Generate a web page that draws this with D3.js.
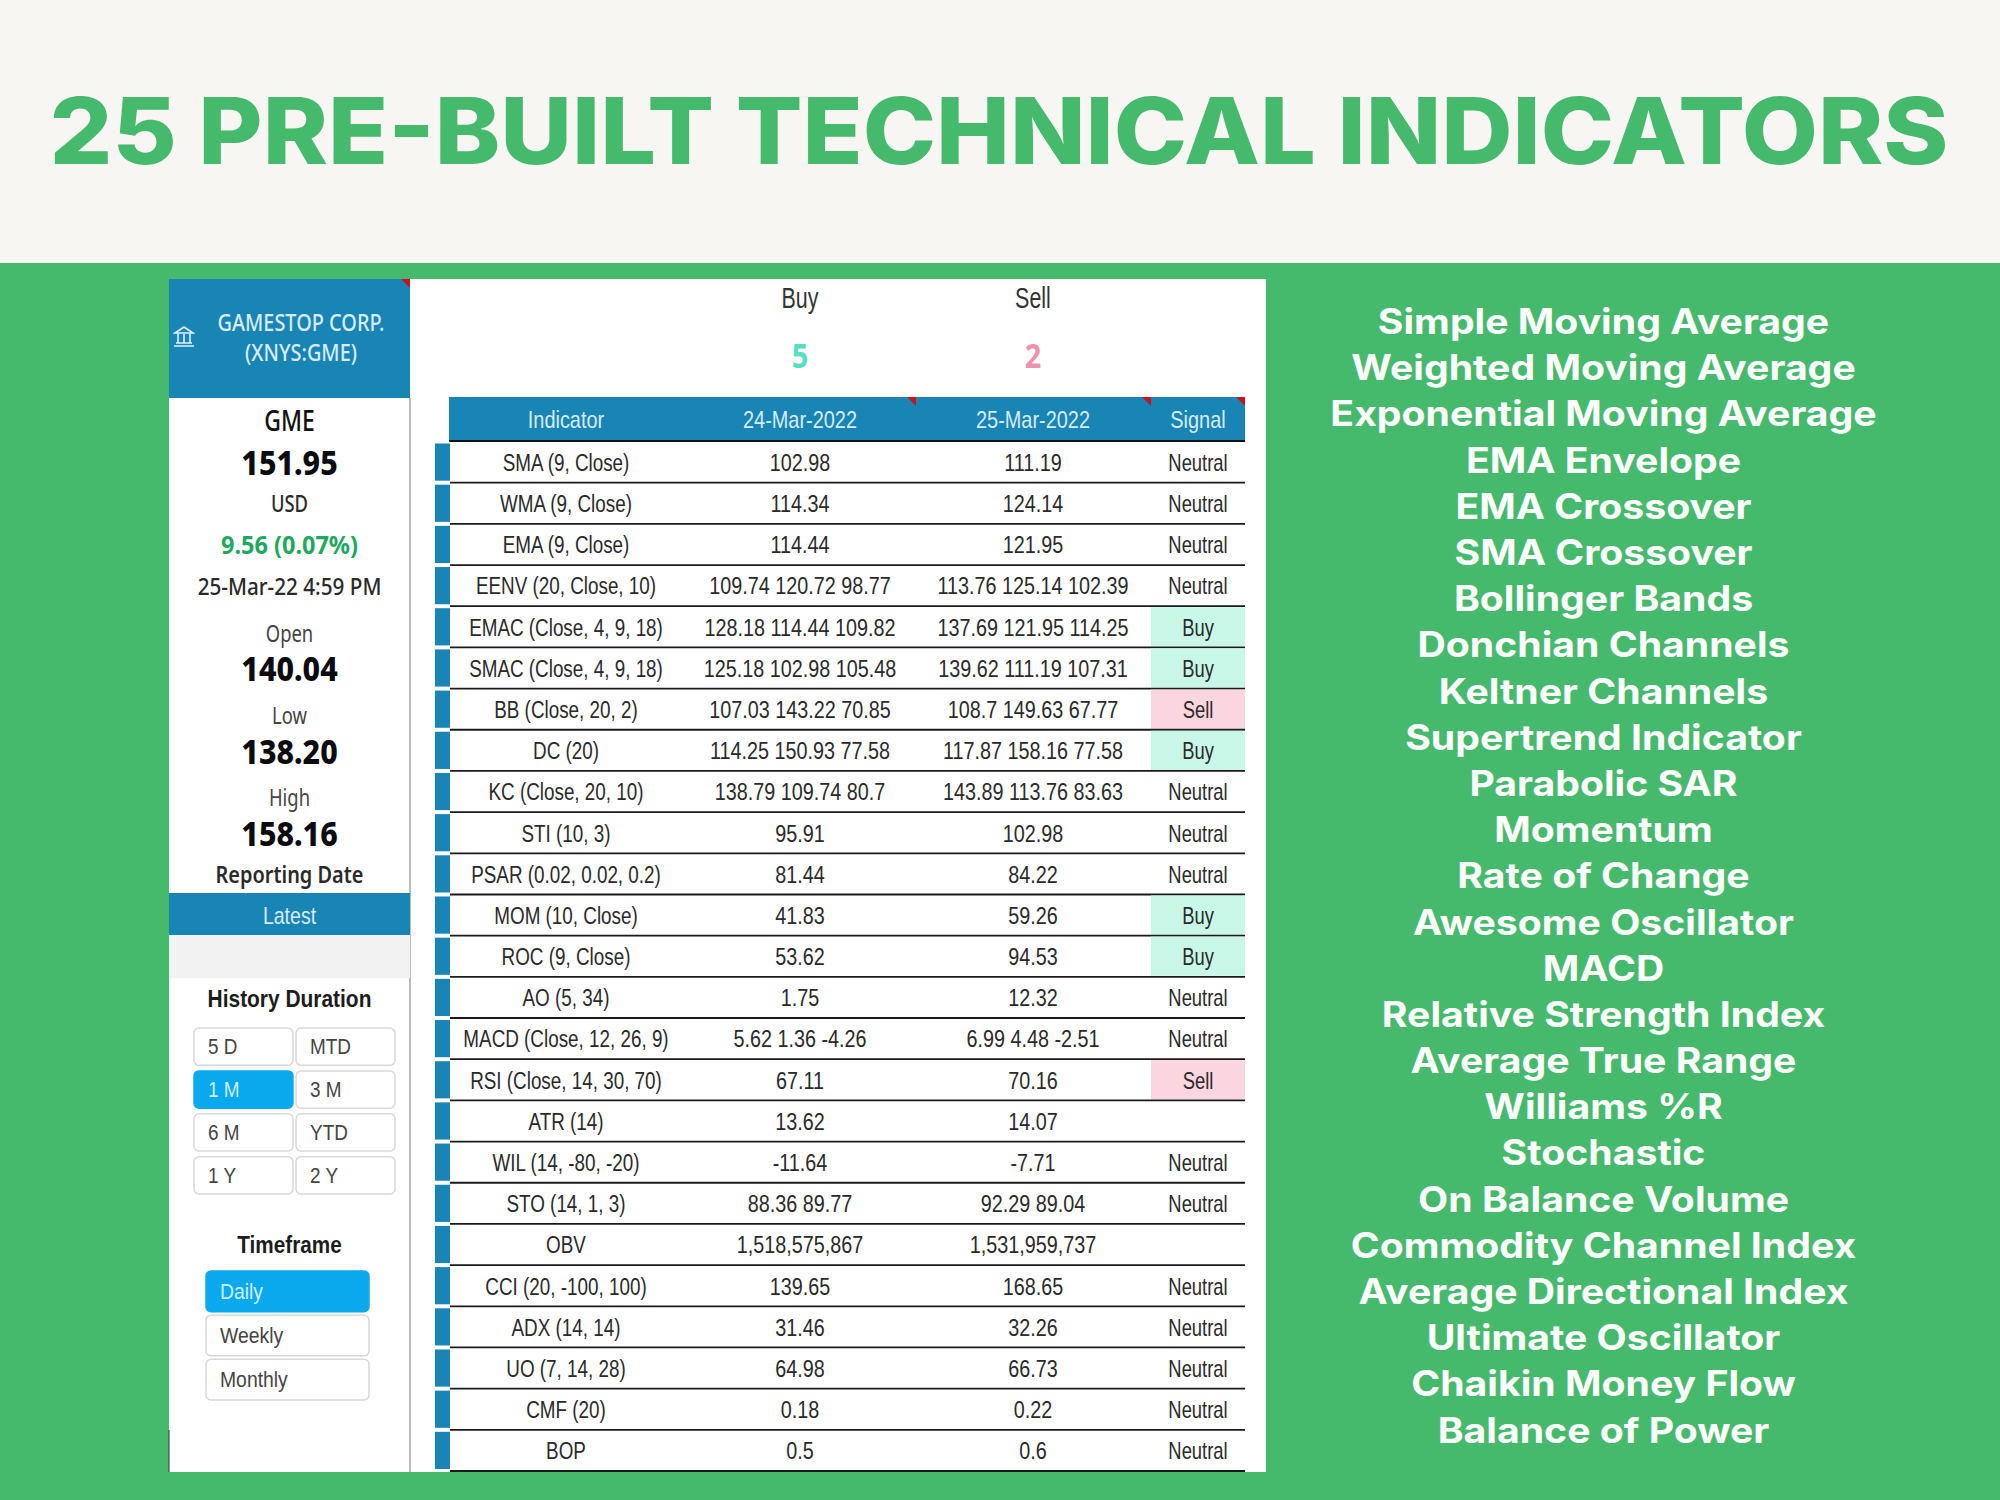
<!DOCTYPE html>
<html>
<head>
<meta charset="utf-8">
<title>25 Pre-built Technical Indicators</title>
<script src="https://cdn.jsdelivr.net/npm/d3@7"></script>
<style>
  html, body { margin: 0; padding: 0; background: #fff; }
  svg { display: block; }
</style>
</head>
<body>
<script>
const titleText = '25 PRE-BUILT TECHNICAL INDICATORS'
const dates = ['24-Mar-2022', '25-Mar-2022']
const headers = ['Indicator', dates[0], dates[1], 'Signal']
const buyCount = 5
const sellCount = 2

const indicators = ['SMA (9, Close)', 'WMA (9, Close)', 'EMA (9, Close)', 'EENV (20, Close, 10)', 'EMAC (Close, 4, 9, 18)',
  'SMAC (Close, 4, 9, 18)', 'BB (Close, 20, 2)', 'DC (20)', 'KC (Close, 20, 10)', 'STI (10, 3)', 'PSAR (0.02, 0.02, 0.2)',
  'MOM (10, Close)', 'ROC (9, Close)', 'AO (5, 34)', 'MACD (Close, 12, 26, 9)', 'RSI (Close, 14, 30, 70)', 'ATR (14)',
  'WIL (14, -80, -20)', 'STO (14, 1, 3)', 'OBV', 'CCI (20, -100, 100)', 'ADX (14, 14)', 'UO (7, 14, 28)', 'CMF (20)', 'BOP']
const day1 = ['102.98', '114.34', '114.44', '109.74 120.72 98.77', '128.18 114.44 109.82', '125.18 102.98 105.48',
  '107.03 143.22 70.85', '114.25 150.93 77.58', '138.79 109.74 80.7', '95.91', '81.44', '41.83', '53.62', '1.75',
  '5.62 1.36 -4.26', '67.11', '13.62', '-11.64', '88.36 89.77', '1,518,575,867', '139.65', '31.46', '64.98', '0.18', '0.5']
const day2 = ['111.19', '124.14', '121.95', '113.76 125.14 102.39', '137.69 121.95 114.25', '139.62 111.19 107.31',
  '108.7 149.63 67.77', '117.87 158.16 77.58', '143.89 113.76 83.63', '102.98', '84.22', '59.26', '94.53', '12.32',
  '6.99 4.48 -2.51', '70.16', '14.07', '-7.71', '92.29 89.04', '1,531,959,737', '168.65', '32.26', '66.73', '0.22', '0.6']
const signals = ['Neutral', 'Neutral', 'Neutral', 'Neutral', 'Buy', 'Buy', 'Sell', 'Buy', 'Neutral', 'Neutral', 'Neutral',
  'Buy', 'Buy', 'Neutral', 'Neutral', 'Sell', '', 'Neutral', 'Neutral', '', 'Neutral', 'Neutral', 'Neutral', 'Neutral', 'Neutral']

const fullNames = ['Simple Moving Average', 'Weighted Moving Average', 'Exponential Moving Average', 'EMA Envelope', 'EMA Crossover',
  'SMA Crossover', 'Bollinger Bands', 'Donchian Channels', 'Keltner Channels', 'Supertrend Indicator', 'Parabolic SAR', 'Momentum',
  'Rate of Change', 'Awesome Oscillator', 'MACD', 'Relative Strength Index', 'Average True Range', 'Williams %R', 'Stochastic',
  'On Balance Volume', 'Commodity Channel Index', 'Average Directional Index', 'Ultimate Oscillator', 'Chaikin Money Flow', 'Balance of Power']

const durations = ['5 D', 'MTD', '1 M', '3 M', '6 M', 'YTD', '1 Y', '2 Y']
const timeframes = ['Daily', 'Weekly', 'Monthly']

const green = '#46ba6c'
const blue = '#1885b4'
const active = '#0aa9ee'
const arial = '"Liberation Sans", Arial, sans-serif'
const heading = 'Inter, "Noto Sans", sans-serif'
const side = '"Noto Sans", sans-serif'

const svg = d3.select('body').append('svg').attr('width', 2000).attr('height', 1500)

// text helper, sx squeezes the glyphs sideways like the stretched screenshot
function put(parent, str, x, y, size, o = {}) {
  return parent.append('text')
    .attr('transform', `translate(${x},${y}) scale(${o.sx || 1},1)`)
    .attr('dy', '.35em')
    .attr('text-anchor', o.anchor || 'middle')
    .attr('font-family', o.font || arial)
    .attr('font-weight', o.weight || 400)
    .attr('font-size', size)
    .attr('fill', o.fill || '#2a2a2a')
    .text(str)
}

function corner(x, y) {
  svg.append('path').attr('d', `M${x - 9},${y}H${x}V${y + 9}Z`).attr('fill', '#c9141c')
}

// backgrounds
svg.append('rect').attr('width', 2000).attr('height', 1500).attr('fill', green)
svg.append('rect').attr('width', 2000).attr('height', 263).attr('fill', '#f7f6f3')
svg.append('rect').attr('x', 169).attr('y', 279).attr('width', 1097).attr('height', 1193).attr('fill', '#fff')

svg.append('text')
  .attr('x', 999).attr('y', 164)
  .attr('text-anchor', 'middle')
  .attr('font-family', heading).attr('font-weight', 800).attr('font-size', 92)
  .attr('textLength', 1899).attr('lengthAdjust', 'spacingAndGlyphs')
  .attr('fill', green)
  .text(titleText)

// sidebar
const sb = svg.append('g')
sb.append('rect').attr('x', 169).attr('y', 279).attr('width', 241).attr('height', 119).attr('fill', blue)
corner(410, 279)
sb.append('line').attr('x1', 410).attr('x2', 410).attr('y1', 398).attr('y2', 1472).attr('stroke', '#bdbdbd').attr('stroke-width', 2)
sb.append('line').attr('x1', 169).attr('x2', 169).attr('y1', 1430).attr('y2', 1472).attr('stroke', '#333').attr('stroke-width', 1)
put(sb, 'GAMESTOP CORP.', 301, 323, 24, { font: side, weight: 500, fill: '#d6ebf3', sx: .83 })
put(sb, '(XNYS:GME)', 301, 353, 24, { font: side, weight: 500, fill: '#d6ebf3', sx: .83 })

// bank icon
const bank = sb.append('g').attr('fill', 'none').attr('stroke', '#e4f1f6').attr('stroke-width', 1.6)
bank.append('path').attr('d', 'M175,333L184,327L193,333Z')
bank.append('path').attr('d', 'M174,346H194M176,343H192M178,334V343M184,334V343M190,334V343')

const cx = 289.5
const big = { font: side, weight: 800, sx: .92, fill: '#0c0c10' }
const small = { font: side, sx: .8, fill: '#444' }
put(sb, 'GME', cx, 421, 28, { font: side, weight: 500, sx: .82, fill: '#111' })
put(sb, '151.95', cx, 463, 33, big)
put(sb, 'USD', cx, 504, 23, { font: side, weight: 500, sx: .8 })
put(sb, '9.56 (0.07%)', cx, 545, 25, { font: side, weight: 700, sx: .94, fill: '#20a85e' })
put(sb, '25-Mar-22 4:59 PM', cx, 587, 23, { font: side, weight: 500, sx: .9 })
put(sb, 'Open', cx, 634, 23, small)
put(sb, '140.04', cx, 669, 33, big)
put(sb, 'Low', cx, 716, 23, small)
put(sb, '138.20', cx, 752, 33, big)
put(sb, 'High', cx, 798, 23, small)
put(sb, '158.16', cx, 834, 33, big)
put(sb, 'Reporting Date', cx, 875, 24, { font: side, weight: 600, sx: .83 })

sb.append('rect').attr('x', 169).attr('y', 893).attr('width', 241).attr('height', 42).attr('fill', blue)
sb.append('rect').attr('x', 169).attr('y', 935).attr('width', 241).attr('height', 43).attr('fill', '#f2f2f2')
put(sb, 'Latest', cx, 916, 23, { sx: .85, fill: '#d6ebf3' })

put(sb, 'History Duration', cx, 999, 23, { weight: 700, sx: .91, fill: '#1c1c1c' })
put(sb, 'Timeframe', cx, 1245, 23, { weight: 700, sx: .9, fill: '#1c1c1c' })

const durRow = d3.scaleBand().domain(d3.range(4)).range([1028, 1194]).paddingInner(.13)
const durCol = d3.scaleBand().domain(d3.range(2)).range([194, 395]).paddingInner(.03)
durations.forEach((d, i) => {
  const r = Math.floor(i / 2), c = i % 2, on = d === '1 M'
  sb.append('rect')
    .attr('x', durCol(c)).attr('y', durRow(r))
    .attr('width', durCol.bandwidth()).attr('height', durRow.bandwidth())
    .attr('rx', 5)
    .attr('fill', on ? active : '#fff').attr('stroke', on ? active : '#d9d9d9').attr('stroke-width', 1.5)
  put(sb, d, durCol(c) + 14, durRow(r) + durRow.bandwidth() / 2, 22, { anchor: 'start', sx: .86, fill: on ? '#cfeefc' : '#444' })
})

const tfRow = d3.scaleBand().domain(timeframes).range([1271, 1400]).paddingInner(.08)
timeframes.forEach(d => {
  const on = d === 'Daily'
  sb.append('rect')
    .attr('x', 206).attr('y', tfRow(d))
    .attr('width', 163).attr('height', tfRow.bandwidth())
    .attr('rx', 5)
    .attr('fill', on ? active : '#fff').attr('stroke', on ? active : '#d9d9d9').attr('stroke-width', 1.5)
  put(sb, d, 220, tfRow(d) + tfRow.bandwidth() / 2, 22, { anchor: 'start', sx: .88, fill: on ? '#cfeefc' : '#444' })
})

// buy and sell counters
const colX = d3.scaleOrdinal().domain(headers).range([566, 800, 1033, 1198])
put(svg, 'Buy', colX(dates[0]), 298, 29, { sx: .74, fill: '#333' })
put(svg, 'Sell', colX(dates[1]), 298, 29, { sx: .74, fill: '#333' })
put(svg, buyCount, colX(dates[0]), 356, 34, { font: side, weight: 700, sx: .85, fill: '#56e0bf' })
put(svg, sellCount, colX(dates[1]), 356, 34, { font: side, weight: 700, sx: .85, fill: '#ee93ab' })

// table
const tableLeft = 449, tableRight = 1245
const rowY = d3.scaleBand().domain(indicators).range([441.5, 1471]).paddingInner(0)
const rowH = rowY.bandwidth()
const table = svg.append('g')

table.append('rect').attr('x', tableLeft).attr('y', 397).attr('width', tableRight - tableLeft).attr('height', 44.5).attr('fill', blue)
headers.forEach(h => put(table, h, colX(h), 420, 24, { sx: .83, fill: '#d6ebf3' }))
corner(916, 397)
corner(1151, 397)
corner(1245, 397)

const rows = table.selectAll('g.row').data(indicators).join('g').attr('class', 'row')
  .attr('transform', d => `translate(0,${rowY(d)})`)

rows.append('rect').attr('x', 435).attr('y', 2).attr('width', 15).attr('height', rowH - 4).attr('fill', blue)
rows.filter((d, i) => signals[i] === 'Buy' || signals[i] === 'Sell').append('rect')
  .attr('x', 1151).attr('y', 1).attr('width', tableRight - 1151).attr('height', rowH - 2)
  .attr('fill', d => signals[indicators.indexOf(d)] === 'Buy' ? '#c8f7e8' : '#fbd5df')
rows.append('line').attr('x1', 450).attr('x2', tableRight).attr('y1', rowH).attr('y2', rowH)
  .attr('stroke', '#1a1a1a').attr('stroke-width', 1.8)

rows.each(function (d, i) {
  const g = d3.select(this), mid = rowH / 2 + .8
  put(g, d, colX('Indicator'), mid, 23, { sx: .82 })
  put(g, day1[i], colX(dates[0]), mid, 23, { sx: .86 })
  put(g, day2[i], colX(dates[1]), mid, 23, { sx: .86 })
  put(g, signals[i], colX('Signal'), mid, 23, { sx: .8 })
})
table.append('line').attr('x1', 449).attr('x2', tableRight).attr('y1', 441).attr('y2', 441).attr('stroke', '#111').attr('stroke-width', 2)

// names on the right
const nameY = d3.scalePoint().domain(fullNames).range([321.5, 1430])
svg.append('g').selectAll('text').data(fullNames).join('text')
  .attr('transform', d => `translate(1603.5,${nameY(d)}) scale(1.12,1)`)
  .attr('dy', '.36em')
  .attr('text-anchor', 'middle')
  .attr('font-family', heading).attr('font-weight', 700).attr('font-size', 35)
  .attr('fill', '#fff')
  .text(d => d)
</script>
</body>
</html>
